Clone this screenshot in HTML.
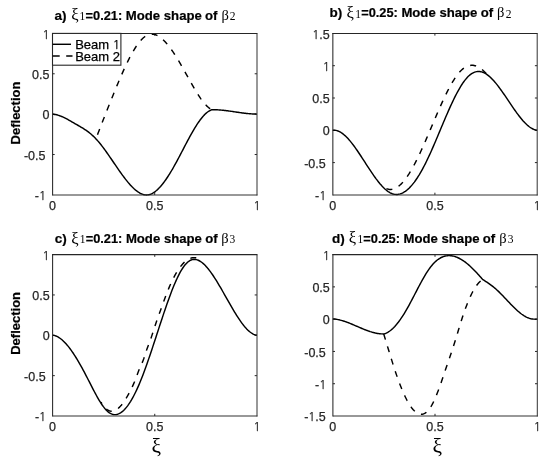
<!DOCTYPE html><html><head><meta charset="utf-8"><title>Mode shapes</title><style>html,body{margin:0;padding:0;background:#fff;}svg{display:block;}</style></head><body>
<svg width="550" height="465" viewBox="0 0 550 465">
<rect width="550" height="465" fill="#fff"/>
<text x="46.00" y="200.00" font-family="'Liberation Sans', Arial, Helvetica, sans-serif" font-size="12.5" fill="#262626" stroke="#262626" stroke-width="0.25" text-anchor="end">-<tspan font-family="NanumGothic, 'Liberation Sans', sans-serif" font-size="11.6">1</tspan></text>
<path d="M52.50,154.53 h2.2 M256.90,154.53 h-2.2" stroke="#262626" stroke-width="1"/>
<text x="45.50" y="159.62" font-family="'Liberation Sans', Arial, Helvetica, sans-serif" font-size="12.5" fill="#262626" stroke="#262626" stroke-width="0.25" text-anchor="end">-0.5</text>
<path d="M52.50,114.15 h2.2 M256.90,114.15 h-2.2" stroke="#262626" stroke-width="1"/>
<text x="49.50" y="119.25" font-family="'Liberation Sans', Arial, Helvetica, sans-serif" font-size="12.5" fill="#262626" stroke="#262626" stroke-width="0.25" text-anchor="end">0</text>
<path d="M52.50,73.78 h2.2 M256.90,73.78 h-2.2" stroke="#262626" stroke-width="1"/>
<text x="49.50" y="78.88" font-family="'Liberation Sans', Arial, Helvetica, sans-serif" font-size="12.5" fill="#262626" stroke="#262626" stroke-width="0.25" text-anchor="end">0.5</text>
<text x="49.50" y="38.50" font-family="'Liberation Sans', Arial, Helvetica, sans-serif" font-size="12.5" fill="#262626" stroke="#262626" stroke-width="0.25" text-anchor="end"><tspan font-family="NanumGothic, 'Liberation Sans', sans-serif" font-size="11.6">1</tspan></text>
<text x="52.50" y="209.90" font-family="'Liberation Sans', Arial, Helvetica, sans-serif" font-size="12.5" fill="#262626" stroke="#262626" stroke-width="0.25" text-anchor="middle">0</text>
<path d="M154.70,194.90 v-2.2 M154.70,33.40 v2.2" stroke="#262626" stroke-width="1"/>
<text x="154.70" y="209.90" font-family="'Liberation Sans', Arial, Helvetica, sans-serif" font-size="12.5" fill="#262626" stroke="#262626" stroke-width="0.25" text-anchor="middle">0.5</text>
<text x="256.90" y="209.90" font-family="'Liberation Sans', Arial, Helvetica, sans-serif" font-size="12.5" fill="#262626" stroke="#262626" stroke-width="0.25" text-anchor="middle"><tspan font-family="NanumGothic, 'Liberation Sans', sans-serif" font-size="11.6">1</tspan></text>
<text x="326.20" y="200.00" font-family="'Liberation Sans', Arial, Helvetica, sans-serif" font-size="12.5" fill="#262626" stroke="#262626" stroke-width="0.25" text-anchor="end">-<tspan font-family="NanumGothic, 'Liberation Sans', sans-serif" font-size="11.6">1</tspan></text>
<path d="M332.70,162.60 h2.2 M537.10,162.60 h-2.2" stroke="#262626" stroke-width="1"/>
<text x="325.70" y="167.70" font-family="'Liberation Sans', Arial, Helvetica, sans-serif" font-size="12.5" fill="#262626" stroke="#262626" stroke-width="0.25" text-anchor="end">-0.5</text>
<path d="M332.70,130.30 h2.2 M537.10,130.30 h-2.2" stroke="#262626" stroke-width="1"/>
<text x="329.70" y="135.40" font-family="'Liberation Sans', Arial, Helvetica, sans-serif" font-size="12.5" fill="#262626" stroke="#262626" stroke-width="0.25" text-anchor="end">0</text>
<path d="M332.70,98.00 h2.2 M537.10,98.00 h-2.2" stroke="#262626" stroke-width="1"/>
<text x="329.70" y="103.10" font-family="'Liberation Sans', Arial, Helvetica, sans-serif" font-size="12.5" fill="#262626" stroke="#262626" stroke-width="0.25" text-anchor="end">0.5</text>
<path d="M332.70,65.70 h2.2 M537.10,65.70 h-2.2" stroke="#262626" stroke-width="1"/>
<text x="329.70" y="70.80" font-family="'Liberation Sans', Arial, Helvetica, sans-serif" font-size="12.5" fill="#262626" stroke="#262626" stroke-width="0.25" text-anchor="end"><tspan font-family="NanumGothic, 'Liberation Sans', sans-serif" font-size="11.6">1</tspan></text>
<text x="329.70" y="38.50" font-family="'Liberation Sans', Arial, Helvetica, sans-serif" font-size="12.5" fill="#262626" stroke="#262626" stroke-width="0.25" text-anchor="end"><tspan font-family="NanumGothic, 'Liberation Sans', sans-serif" font-size="11.6">1</tspan>.5</text>
<text x="332.70" y="209.90" font-family="'Liberation Sans', Arial, Helvetica, sans-serif" font-size="12.5" fill="#262626" stroke="#262626" stroke-width="0.25" text-anchor="middle">0</text>
<path d="M434.90,194.90 v-2.2 M434.90,33.40 v2.2" stroke="#262626" stroke-width="1"/>
<text x="434.90" y="209.90" font-family="'Liberation Sans', Arial, Helvetica, sans-serif" font-size="12.5" fill="#262626" stroke="#262626" stroke-width="0.25" text-anchor="middle">0.5</text>
<text x="537.10" y="209.90" font-family="'Liberation Sans', Arial, Helvetica, sans-serif" font-size="12.5" fill="#262626" stroke="#262626" stroke-width="0.25" text-anchor="middle"><tspan font-family="NanumGothic, 'Liberation Sans', sans-serif" font-size="11.6">1</tspan></text>
<text x="46.10" y="421.10" font-family="'Liberation Sans', Arial, Helvetica, sans-serif" font-size="12.5" fill="#262626" stroke="#262626" stroke-width="0.25" text-anchor="end">-<tspan font-family="NanumGothic, 'Liberation Sans', sans-serif" font-size="11.6">1</tspan></text>
<path d="M52.60,375.65 h2.2 M256.90,375.65 h-2.2" stroke="#262626" stroke-width="1"/>
<text x="45.60" y="380.75" font-family="'Liberation Sans', Arial, Helvetica, sans-serif" font-size="12.5" fill="#262626" stroke="#262626" stroke-width="0.25" text-anchor="end">-0.5</text>
<path d="M52.60,335.30 h2.2 M256.90,335.30 h-2.2" stroke="#262626" stroke-width="1"/>
<text x="49.60" y="340.40" font-family="'Liberation Sans', Arial, Helvetica, sans-serif" font-size="12.5" fill="#262626" stroke="#262626" stroke-width="0.25" text-anchor="end">0</text>
<path d="M52.60,294.95 h2.2 M256.90,294.95 h-2.2" stroke="#262626" stroke-width="1"/>
<text x="49.60" y="300.05" font-family="'Liberation Sans', Arial, Helvetica, sans-serif" font-size="12.5" fill="#262626" stroke="#262626" stroke-width="0.25" text-anchor="end">0.5</text>
<text x="49.60" y="259.70" font-family="'Liberation Sans', Arial, Helvetica, sans-serif" font-size="12.5" fill="#262626" stroke="#262626" stroke-width="0.25" text-anchor="end"><tspan font-family="NanumGothic, 'Liberation Sans', sans-serif" font-size="11.6">1</tspan></text>
<text x="52.60" y="431.00" font-family="'Liberation Sans', Arial, Helvetica, sans-serif" font-size="12.5" fill="#262626" stroke="#262626" stroke-width="0.25" text-anchor="middle">0</text>
<path d="M154.75,416.00 v-2.2 M154.75,254.60 v2.2" stroke="#262626" stroke-width="1"/>
<text x="154.75" y="431.00" font-family="'Liberation Sans', Arial, Helvetica, sans-serif" font-size="12.5" fill="#262626" stroke="#262626" stroke-width="0.25" text-anchor="middle">0.5</text>
<text x="256.90" y="431.00" font-family="'Liberation Sans', Arial, Helvetica, sans-serif" font-size="12.5" fill="#262626" stroke="#262626" stroke-width="0.25" text-anchor="middle"><tspan font-family="NanumGothic, 'Liberation Sans', sans-serif" font-size="11.6">1</tspan></text>
<text x="325.80" y="421.10" font-family="'Liberation Sans', Arial, Helvetica, sans-serif" font-size="12.5" fill="#262626" stroke="#262626" stroke-width="0.25" text-anchor="end">-<tspan font-family="NanumGothic, 'Liberation Sans', sans-serif" font-size="11.6">1</tspan>.5</text>
<path d="M332.80,383.72 h2.2 M537.20,383.72 h-2.2" stroke="#262626" stroke-width="1"/>
<text x="326.30" y="388.82" font-family="'Liberation Sans', Arial, Helvetica, sans-serif" font-size="12.5" fill="#262626" stroke="#262626" stroke-width="0.25" text-anchor="end">-<tspan font-family="NanumGothic, 'Liberation Sans', sans-serif" font-size="11.6">1</tspan></text>
<path d="M332.80,351.44 h2.2 M537.20,351.44 h-2.2" stroke="#262626" stroke-width="1"/>
<text x="325.80" y="356.54" font-family="'Liberation Sans', Arial, Helvetica, sans-serif" font-size="12.5" fill="#262626" stroke="#262626" stroke-width="0.25" text-anchor="end">-0.5</text>
<path d="M332.80,319.16 h2.2 M537.20,319.16 h-2.2" stroke="#262626" stroke-width="1"/>
<text x="329.80" y="324.26" font-family="'Liberation Sans', Arial, Helvetica, sans-serif" font-size="12.5" fill="#262626" stroke="#262626" stroke-width="0.25" text-anchor="end">0</text>
<path d="M332.80,286.88 h2.2 M537.20,286.88 h-2.2" stroke="#262626" stroke-width="1"/>
<text x="329.80" y="291.98" font-family="'Liberation Sans', Arial, Helvetica, sans-serif" font-size="12.5" fill="#262626" stroke="#262626" stroke-width="0.25" text-anchor="end">0.5</text>
<text x="329.80" y="259.70" font-family="'Liberation Sans', Arial, Helvetica, sans-serif" font-size="12.5" fill="#262626" stroke="#262626" stroke-width="0.25" text-anchor="end"><tspan font-family="NanumGothic, 'Liberation Sans', sans-serif" font-size="11.6">1</tspan></text>
<text x="332.80" y="431.00" font-family="'Liberation Sans', Arial, Helvetica, sans-serif" font-size="12.5" fill="#262626" stroke="#262626" stroke-width="0.25" text-anchor="middle">0</text>
<path d="M435.00,416.00 v-2.2 M435.00,254.60 v2.2" stroke="#262626" stroke-width="1"/>
<text x="435.00" y="431.00" font-family="'Liberation Sans', Arial, Helvetica, sans-serif" font-size="12.5" fill="#262626" stroke="#262626" stroke-width="0.25" text-anchor="middle">0.5</text>
<text x="537.20" y="431.00" font-family="'Liberation Sans', Arial, Helvetica, sans-serif" font-size="12.5" fill="#262626" stroke="#262626" stroke-width="0.25" text-anchor="middle"><tspan font-family="NanumGothic, 'Liberation Sans', sans-serif" font-size="11.6">1</tspan></text>
<path d="M52.60,114.19 L53.61,114.27 L54.62,114.41 L55.63,114.58 L56.64,114.81 L57.64,115.07 L58.65,115.38 L59.66,115.72 L60.67,116.10 L61.68,116.51 L62.69,116.94 L63.70,117.41 L64.71,117.90 L65.72,118.40 L66.72,118.93 L67.73,119.48 L68.74,120.03 L69.75,120.60 L70.76,121.18 L71.77,121.76 L72.78,122.35 L73.79,122.93 L74.79,123.51 L75.80,124.09 L76.81,124.67 L77.82,125.25 L78.83,125.83 L79.84,126.42 L80.85,127.01 L81.86,127.62 L82.87,128.24 L83.87,128.88 L84.88,129.54 L85.89,130.22 L86.90,130.93 L87.91,131.66 L88.92,132.43 L89.93,133.22 L90.94,134.06 L91.95,134.93 L92.95,135.85 L93.96,136.81 L94.97,137.82 L95.98,138.88 L96.99,139.98 L98.00,141.13 L99.01,142.31 L100.02,143.54 L101.03,144.80 L102.03,146.09 L103.04,147.42 L104.05,148.77 L105.06,150.15 L106.07,151.54 L107.08,152.96 L108.09,154.40 L109.10,155.85 L110.11,157.31 L111.11,158.78 L112.12,160.26 L113.13,161.74 L114.14,163.22 L115.15,164.70 L116.16,166.18 L117.17,167.65 L118.18,169.11 L119.18,170.56 L120.19,171.99 L121.20,173.41 L122.21,174.81 L123.22,176.18 L124.23,177.53 L125.24,178.85 L126.25,180.14 L127.26,181.40 L128.26,182.62 L129.27,183.80 L130.28,184.93 L131.29,186.02 L132.30,187.07 L133.31,188.06 L134.32,188.99 L135.33,189.87 L136.34,190.69 L137.34,191.44 L138.35,192.13 L139.36,192.75 L140.37,193.30 L141.38,193.77 L142.39,194.17 L143.40,194.48 L144.41,194.72 L145.42,194.86 L146.42,194.92 L147.43,194.88 L148.44,194.75 L149.45,194.53 L150.46,194.21 L151.47,193.80 L152.48,193.30 L153.49,192.72 L154.49,192.06 L155.50,191.31 L156.51,190.49 L157.52,189.59 L158.53,188.61 L159.54,187.57 L160.55,186.46 L161.56,185.29 L162.57,184.05 L163.57,182.75 L164.58,181.39 L165.59,179.98 L166.60,178.52 L167.61,177.00 L168.62,175.44 L169.63,173.84 L170.64,172.19 L171.65,170.50 L172.65,168.77 L173.66,167.01 L174.67,165.21 L175.68,163.38 L176.69,161.53 L177.70,159.66 L178.71,157.76 L179.72,155.85 L180.73,153.93 L181.73,151.99 L182.74,150.06 L183.75,148.12 L184.76,146.19 L185.77,144.27 L186.78,142.35 L187.79,140.46 L188.80,138.58 L189.81,136.72 L190.81,134.90 L191.82,133.10 L192.83,131.34 L193.84,129.62 L194.85,127.94 L195.86,126.30 L196.87,124.72 L197.88,123.19 L198.88,121.72 L199.89,120.31 L200.90,118.97 L201.91,117.70 L202.92,116.50 L203.93,115.38 L204.94,114.34 L205.95,113.39 L206.96,112.53 L207.96,111.76 L208.97,111.09 L209.98,110.52 L210.99,110.05 L212.00,109.69 L213.04,109.69 L214.08,109.70 L215.13,109.72 L216.17,109.76 L217.21,109.81 L218.25,109.87 L219.29,109.94 L220.33,110.02 L221.38,110.11 L222.42,110.21 L223.46,110.32 L224.50,110.43 L225.54,110.56 L226.59,110.69 L227.63,110.82 L228.67,110.96 L229.71,111.11 L230.75,111.25 L231.80,111.40 L232.84,111.56 L233.88,111.71 L234.92,111.87 L235.96,112.02 L237.00,112.18 L238.05,112.33 L239.09,112.48 L240.13,112.63 L241.17,112.77 L242.21,112.92 L243.26,113.05 L244.30,113.19 L245.34,113.31 L246.38,113.43 L247.42,113.54 L248.47,113.64 L249.51,113.74 L250.55,113.82 L251.59,113.90 L252.63,113.96 L253.67,114.02 L254.72,114.06 L255.76,114.09 L256.80,114.10" fill="none" stroke="#000" stroke-width="1.45" stroke-linejoin="round"/>
<path d="M332.90,130.21 L333.91,130.17 L334.91,130.22 L335.92,130.38 L336.92,130.63 L337.93,130.96 L338.93,131.39 L339.94,131.90 L340.94,132.49 L341.95,133.16 L342.95,133.90 L343.96,134.71 L344.97,135.59 L345.97,136.54 L346.98,137.55 L347.98,138.61 L348.99,139.73 L349.99,140.90 L351.00,142.12 L352.00,143.39 L353.01,144.69 L354.01,146.04 L355.02,147.42 L356.02,148.83 L357.03,150.28 L358.04,151.74 L359.04,153.23 L360.05,154.74 L361.05,156.27 L362.06,157.80 L363.06,159.35 L364.07,160.90 L365.07,162.46 L366.08,164.02 L367.08,165.57 L368.09,167.11 L369.10,168.65 L370.10,170.17 L371.11,171.68 L372.11,173.16 L373.12,174.62 L374.12,176.06 L375.13,177.46 L376.13,178.84 L377.14,180.17 L378.14,181.47 L379.15,182.73 L380.15,183.94 L381.16,185.10 L382.17,186.21 L383.17,187.26 L384.18,188.25 L385.18,189.18 L386.19,190.05 L387.19,190.85 L388.20,191.57 L389.20,192.23 L390.21,192.80 L391.21,193.29 L392.22,193.69 L393.23,194.01 L394.23,194.24 L395.24,194.39 L396.24,194.45 L397.25,194.42 L398.25,194.32 L399.26,194.13 L400.26,193.85 L401.27,193.50 L402.27,193.07 L403.28,192.56 L404.28,191.97 L405.29,191.31 L406.30,190.57 L407.30,189.76 L408.31,188.87 L409.31,187.91 L410.32,186.88 L411.32,185.78 L412.33,184.61 L413.33,183.37 L414.34,182.07 L415.34,180.70 L416.35,179.26 L417.36,177.76 L418.36,176.19 L419.37,174.57 L420.37,172.88 L421.38,171.13 L422.38,169.32 L423.39,167.46 L424.39,165.54 L425.40,163.56 L426.40,161.52 L427.41,159.44 L428.41,157.31 L429.42,155.14 L430.43,152.93 L431.43,150.69 L432.44,148.41 L433.44,146.10 L434.45,143.77 L435.45,141.42 L436.46,139.05 L437.46,136.67 L438.47,134.28 L439.47,131.88 L440.48,129.48 L441.49,127.09 L442.49,124.69 L443.50,122.31 L444.50,119.94 L445.51,117.58 L446.51,115.24 L447.52,112.93 L448.52,110.64 L449.53,108.38 L450.53,106.16 L451.54,103.98 L452.54,101.83 L453.55,99.73 L454.56,97.68 L455.56,95.68 L456.57,93.74 L457.57,91.86 L458.58,90.04 L459.58,88.28 L460.59,86.60 L461.59,84.99 L462.60,83.45 L463.60,82.00 L464.61,80.63 L465.62,79.35 L466.62,78.16 L467.63,77.07 L468.63,76.08 L469.64,75.18 L470.64,74.39 L471.65,73.69 L472.65,73.09 L473.66,72.59 L474.66,72.18 L475.67,71.87 L476.67,71.65 L477.68,71.52 L478.69,71.48 L479.69,71.54 L480.70,71.68 L481.70,71.91 L482.71,72.23 L483.71,72.63 L484.72,73.12 L485.72,73.69 L486.73,74.34 L487.73,75.07 L488.74,75.86 L489.75,76.73 L490.75,77.65 L491.76,78.64 L492.76,79.69 L493.77,80.79 L494.77,81.94 L495.78,83.14 L496.78,84.38 L497.79,85.66 L498.79,86.98 L499.80,88.33 L500.80,89.71 L501.81,91.12 L502.82,92.55 L503.82,94.00 L504.83,95.46 L505.83,96.94 L506.84,98.43 L507.84,99.92 L508.85,101.42 L509.85,102.91 L510.86,104.40 L511.86,105.88 L512.87,107.35 L513.88,108.81 L514.88,110.24 L515.89,111.66 L516.89,113.05 L517.90,114.41 L518.90,115.73 L519.91,117.03 L520.91,118.28 L521.92,119.49 L522.92,120.66 L523.93,121.77 L524.93,122.83 L525.94,123.84 L526.95,124.78 L527.95,125.67 L528.96,126.48 L529.96,127.23 L530.97,127.90 L531.97,128.50 L532.98,129.01 L533.98,129.44 L534.99,129.78 L535.99,130.04 L537.00,130.19" fill="none" stroke="#000" stroke-width="1.45" stroke-linejoin="round"/>
<path d="M52.90,335.20 L53.91,335.38 L54.92,335.65 L55.93,336.01 L56.94,336.44 L57.95,336.96 L58.96,337.56 L59.97,338.23 L60.98,338.98 L61.98,339.80 L62.99,340.70 L64.00,341.66 L65.01,342.68 L66.02,343.77 L67.03,344.93 L68.04,346.14 L69.05,347.41 L70.06,348.74 L71.07,350.12 L72.08,351.55 L73.09,353.03 L74.10,354.56 L75.11,356.13 L76.12,357.74 L77.13,359.40 L78.14,361.10 L79.14,362.83 L80.15,364.59 L81.16,366.39 L82.17,368.22 L83.18,370.08 L84.19,371.96 L85.20,373.87 L86.21,375.80 L87.22,377.75 L88.23,379.71 L89.24,381.69 L90.25,383.67 L91.26,385.65 L92.27,387.62 L93.28,389.57 L94.29,391.50 L95.30,393.39 L96.30,395.25 L97.31,397.07 L98.32,398.83 L99.33,400.53 L100.34,402.17 L101.35,403.74 L102.36,405.23 L103.37,406.63 L104.38,407.93 L105.39,409.14 L106.40,410.24 L107.41,411.22 L108.42,412.09 L109.43,412.83 L110.44,413.43 L111.45,413.92 L112.45,414.28 L113.46,414.51 L114.47,414.62 L115.48,414.62 L116.49,414.49 L117.50,414.25 L118.51,413.90 L119.52,413.43 L120.53,412.85 L121.54,412.17 L122.55,411.37 L123.56,410.47 L124.57,409.46 L125.58,408.35 L126.59,407.14 L127.60,405.83 L128.61,404.42 L129.61,402.92 L130.62,401.32 L131.63,399.63 L132.64,397.85 L133.65,395.98 L134.66,394.02 L135.67,391.97 L136.68,389.84 L137.69,387.63 L138.70,385.34 L139.71,382.97 L140.72,380.52 L141.73,377.99 L142.74,375.40 L143.75,372.74 L144.76,370.02 L145.77,367.24 L146.77,364.42 L147.78,361.54 L148.79,358.63 L149.80,355.67 L150.81,352.69 L151.82,349.67 L152.83,346.63 L153.84,343.57 L154.85,340.49 L155.86,337.41 L156.87,334.31 L157.88,331.22 L158.89,328.13 L159.90,325.04 L160.91,321.97 L161.92,318.92 L162.93,315.88 L163.93,312.87 L164.94,309.90 L165.95,306.95 L166.96,304.05 L167.97,301.19 L168.98,298.39 L169.99,295.64 L171.00,292.96 L172.01,290.34 L173.02,287.79 L174.03,285.32 L175.04,282.94 L176.05,280.64 L177.06,278.43 L178.07,276.33 L179.08,274.33 L180.09,272.44 L181.09,270.66 L182.10,269.01 L183.11,267.48 L184.12,266.07 L185.13,264.80 L186.14,263.67 L187.15,262.66 L188.16,261.79 L189.17,261.05 L190.18,260.45 L191.19,259.99 L192.20,259.66 L193.21,259.46 L194.22,259.39 L195.23,259.43 L196.24,259.60 L197.25,259.87 L198.25,260.26 L199.26,260.75 L200.27,261.33 L201.28,262.01 L202.29,262.78 L203.30,263.64 L204.31,264.58 L205.32,265.59 L206.33,266.68 L207.34,267.84 L208.35,269.06 L209.36,270.34 L210.37,271.68 L211.38,273.07 L212.39,274.52 L213.40,276.01 L214.40,277.54 L215.41,279.12 L216.42,280.73 L217.43,282.38 L218.44,284.06 L219.45,285.76 L220.46,287.49 L221.47,289.23 L222.48,290.99 L223.49,292.76 L224.50,294.55 L225.51,296.33 L226.52,298.12 L227.53,299.91 L228.54,301.69 L229.55,303.47 L230.56,305.23 L231.56,306.97 L232.57,308.70 L233.58,310.40 L234.59,312.08 L235.60,313.73 L236.61,315.35 L237.62,316.92 L238.63,318.46 L239.64,319.96 L240.65,321.40 L241.66,322.80 L242.67,324.14 L243.68,325.43 L244.69,326.65 L245.70,327.81 L246.71,328.90 L247.72,329.92 L248.72,330.87 L249.73,331.73 L250.74,332.52 L251.75,333.22 L252.76,333.82 L253.77,334.34 L254.78,334.76 L255.79,335.08 L256.80,335.30" fill="none" stroke="#000" stroke-width="1.45" stroke-linejoin="round"/>
<path d="M332.90,318.90 L333.94,318.98 L334.97,319.09 L336.01,319.23 L337.05,319.41 L338.08,319.60 L339.12,319.83 L340.16,320.08 L341.19,320.35 L342.23,320.65 L343.27,320.96 L344.30,321.30 L345.34,321.65 L346.38,322.02 L347.41,322.40 L348.45,322.79 L349.49,323.20 L350.52,323.62 L351.56,324.04 L352.60,324.47 L353.63,324.91 L354.67,325.36 L355.71,325.81 L356.74,326.25 L357.78,326.70 L358.82,327.15 L359.86,327.60 L360.89,328.04 L361.93,328.48 L362.97,328.91 L364.00,329.33 L365.04,329.74 L366.08,330.14 L367.11,330.53 L368.15,330.90 L369.19,331.26 L370.22,331.61 L371.26,331.93 L372.30,332.24 L373.33,332.52 L374.37,332.78 L375.41,333.02 L376.44,333.23 L377.48,333.42 L378.52,333.58 L379.55,333.70 L380.59,333.80 L381.63,333.87 L382.66,333.90 L383.70,333.90 L384.71,333.78 L385.72,333.39 L386.73,332.91 L387.74,332.36 L388.76,331.73 L389.77,331.02 L390.78,330.24 L391.79,329.39 L392.80,328.46 L393.81,327.47 L394.82,326.40 L395.83,325.28 L396.85,324.08 L397.86,322.83 L398.87,321.51 L399.88,320.13 L400.89,318.69 L401.90,317.19 L402.91,315.64 L403.92,314.04 L404.94,312.38 L405.95,310.67 L406.96,308.92 L407.97,307.12 L408.98,305.28 L409.99,303.41 L411.00,301.51 L412.01,299.59 L413.03,297.65 L414.04,295.71 L415.05,293.75 L416.06,291.80 L417.07,289.85 L418.08,287.92 L419.09,286.00 L420.10,284.10 L421.12,282.23 L422.13,280.39 L423.14,278.58 L424.15,276.83 L425.16,275.11 L426.17,273.46 L427.18,271.86 L428.19,270.33 L429.21,268.86 L430.22,267.48 L431.23,266.17 L432.24,264.95 L433.25,263.81 L434.26,262.75 L435.27,261.77 L436.28,260.86 L437.29,260.04 L438.31,259.29 L439.32,258.62 L440.33,258.01 L441.34,257.48 L442.35,257.02 L443.36,256.63 L444.37,256.30 L445.38,256.04 L446.40,255.85 L447.41,255.71 L448.42,255.64 L449.43,255.63 L450.44,255.68 L451.45,255.78 L452.46,255.94 L453.47,256.16 L454.49,256.42 L455.50,256.74 L456.51,257.11 L457.52,257.53 L458.53,257.99 L459.54,258.50 L460.55,259.05 L461.56,259.65 L462.58,260.29 L463.59,260.97 L464.60,261.69 L465.61,262.44 L466.62,263.23 L467.63,264.06 L468.64,264.92 L469.65,265.81 L470.67,266.73 L471.68,267.68 L472.69,268.66 L473.70,269.66 L474.71,270.69 L475.72,271.74 L476.73,272.81 L477.74,273.90 L478.76,275.02 L479.77,276.15 L480.78,277.29 L481.79,278.45 L482.80,279.63 L483.83,280.23 L484.85,280.87 L485.88,281.52 L486.91,282.18 L487.93,282.87 L488.96,283.57 L489.98,284.30 L491.01,285.05 L492.04,285.82 L493.06,286.63 L494.09,287.46 L495.12,288.33 L496.14,289.24 L497.17,290.17 L498.20,291.14 L499.22,292.14 L500.25,293.16 L501.28,294.20 L502.30,295.26 L503.33,296.33 L504.35,297.42 L505.38,298.51 L506.41,299.60 L507.43,300.69 L508.46,301.79 L509.49,302.87 L510.51,303.95 L511.54,305.01 L512.57,306.06 L513.59,307.08 L514.62,308.09 L515.65,309.06 L516.67,310.01 L517.70,310.93 L518.72,311.81 L519.75,312.66 L520.78,313.47 L521.80,314.23 L522.83,314.95 L523.86,315.62 L524.88,316.25 L525.91,316.81 L526.94,317.33 L527.96,317.78 L528.99,318.17 L530.02,318.50 L531.04,318.76 L532.07,318.95 L533.09,319.08 L534.12,319.15 L535.15,319.17 L536.17,319.15 L537.20,319.10" fill="none" stroke="#000" stroke-width="1.45" stroke-linejoin="round"/>
<path d="M96.00,138.57 L97.01,135.93 L98.02,133.30 L99.03,130.68 L100.03,128.08 L101.04,125.48 L102.05,122.88 L103.06,120.30 L104.07,117.72 L105.08,115.14 L106.09,112.58 L107.10,110.02 L108.10,107.48 L109.11,104.94 L110.12,102.42 L111.13,99.91 L112.14,97.41 L113.15,94.92 L114.16,92.45 L115.17,90.00 L116.17,87.56 L117.18,85.13 L118.19,82.73 L119.20,80.35 L120.21,77.99 L121.22,75.66 L122.23,73.36 L123.23,71.10 L124.24,68.87 L125.25,66.69 L126.26,64.55 L127.27,62.45 L128.28,60.40 L129.29,58.41 L130.30,56.47 L131.30,54.60 L132.31,52.78 L133.32,51.03 L134.33,49.35 L135.34,47.74 L136.35,46.20 L137.36,44.74 L138.37,43.36 L139.37,42.07 L140.38,40.86 L141.39,39.74 L142.40,38.72 L143.41,37.79 L144.42,36.96 L145.43,36.24 L146.43,35.62 L147.44,35.11 L148.45,34.70 L149.46,34.41 L150.47,34.23 L151.48,34.14 L152.49,34.16 L153.50,34.28 L154.50,34.49 L155.51,34.79 L156.52,35.19 L157.53,35.67 L158.54,36.23 L159.55,36.88 L160.56,37.60 L161.57,38.40 L162.57,39.28 L163.58,40.22 L164.59,41.23 L165.60,42.31 L166.61,43.45 L167.62,44.65 L168.63,45.90 L169.63,47.21 L170.64,48.58 L171.65,49.99 L172.66,51.44 L173.67,52.94 L174.68,54.48 L175.69,56.06 L176.70,57.67 L177.70,59.32 L178.71,60.99 L179.72,62.69 L180.73,64.42 L181.74,66.16 L182.75,67.93 L183.76,69.71 L184.77,71.50 L185.77,73.31 L186.78,75.12 L187.79,76.93 L188.80,78.75 L189.81,80.56 L190.82,82.37 L191.83,84.16 L192.83,85.93 L193.84,87.68 L194.85,89.40 L195.86,91.09 L196.87,92.74 L197.88,94.35 L198.89,95.91 L199.90,97.41 L200.90,98.87 L201.91,100.25 L202.92,101.58 L203.93,102.83 L204.94,104.00 L205.95,105.10 L206.96,106.11 L207.97,107.02 L208.97,107.85 L209.98,108.57 L210.99,109.19 L212.00,109.69" fill="none" stroke="#000" stroke-width="1.45" stroke-dasharray="6 7" stroke-dashoffset="8.8"/>
<path d="M383.80,187.19 L384.81,187.83 L385.83,188.36 L386.84,188.79 L387.86,189.10 L388.87,189.32 L389.88,189.42 L390.90,189.43 L391.91,189.33 L392.92,189.13 L393.94,188.84 L394.95,188.44 L395.97,187.96 L396.98,187.37 L397.99,186.70 L399.01,185.94 L400.02,185.08 L401.04,184.14 L402.05,183.11 L403.06,182.00 L404.08,180.80 L405.09,179.52 L406.10,178.16 L407.12,176.73 L408.13,175.22 L409.15,173.64 L410.16,171.99 L411.17,170.28 L412.19,168.51 L413.20,166.67 L414.22,164.78 L415.23,162.84 L416.24,160.85 L417.26,158.81 L418.27,156.73 L419.29,154.61 L420.30,152.44 L421.31,150.25 L422.33,148.02 L423.34,145.76 L424.35,143.48 L425.37,141.17 L426.38,138.84 L427.40,136.49 L428.41,134.13 L429.42,131.76 L430.44,129.38 L431.45,127.00 L432.47,124.61 L433.48,122.22 L434.49,119.84 L435.51,117.47 L436.52,115.10 L437.53,112.76 L438.55,110.43 L439.56,108.12 L440.58,105.84 L441.59,103.59 L442.60,101.36 L443.62,99.18 L444.63,97.03 L445.65,94.93 L446.66,92.87 L447.67,90.86 L448.69,88.90 L449.70,87.00 L450.71,85.16 L451.73,83.38 L452.74,81.67 L453.76,80.02 L454.77,78.45 L455.78,76.96 L456.80,75.54 L457.81,74.21 L458.83,72.97 L459.84,71.81 L460.85,70.75 L461.87,69.79 L462.88,68.92 L463.90,68.14 L464.91,67.46 L465.92,66.87 L466.94,66.38 L467.95,65.98 L468.96,65.66 L469.98,65.44 L470.99,65.31 L472.01,65.27 L473.02,65.31 L474.03,65.45 L475.05,65.67 L476.06,65.97 L477.08,66.36 L478.09,66.84 L479.10,67.40 L480.12,68.04 L481.13,68.77 L482.14,69.57 L483.16,70.46 L484.17,71.43 L485.19,72.48 L486.20,73.60" fill="none" stroke="#000" stroke-width="1.45" stroke-dasharray="6 7" stroke-dashoffset="10.0"/>
<path d="M101.00,402.21 L102.02,403.89 L103.03,405.39 L104.05,406.71 L105.06,407.85 L106.08,408.81 L107.09,409.61 L108.11,410.24 L109.12,410.70 L110.14,411.01 L111.16,411.16 L112.17,411.17 L113.19,411.03 L114.20,410.75 L115.22,410.33 L116.23,409.79 L117.25,409.11 L118.27,408.31 L119.28,407.39 L120.30,406.35 L121.31,405.21 L122.33,403.95 L123.34,402.60 L124.36,401.14 L125.38,399.60 L126.39,397.96 L127.41,396.23 L128.42,394.43 L129.44,392.54 L130.45,390.58 L131.47,388.53 L132.48,386.37 L133.50,384.09 L134.52,381.68 L135.53,379.11 L136.55,376.42 L137.56,373.68 L138.58,371.01 L139.59,368.50 L140.61,366.20 L141.62,363.97 L142.64,361.66 L143.66,359.10 L144.67,356.14 L145.69,352.82 L146.70,349.67 L147.72,346.95 L148.73,344.39 L149.75,341.74 L150.77,338.88 L151.78,335.88 L152.80,332.78 L153.81,329.66 L154.83,326.55 L155.84,323.53 L156.86,320.59 L157.88,317.70 L158.89,314.85 L159.91,312.00 L160.92,309.15 L161.94,306.31 L162.95,303.48 L163.97,300.69 L164.98,297.95 L166.00,295.25 L167.02,292.63 L168.03,290.09 L169.05,287.64 L170.06,285.28 L171.08,283.02 L172.09,280.85 L173.11,278.78 L174.12,276.81 L175.14,274.93 L176.16,273.15 L177.17,271.46 L178.19,269.87 L179.20,268.37 L180.22,266.98 L181.23,265.68 L182.25,264.48 L183.27,263.37 L184.28,262.36 L185.30,261.45 L186.31,260.64 L187.33,259.93 L188.34,259.31 L189.36,258.79 L190.38,258.37 L191.39,258.05 L192.41,257.83 L193.42,257.71 L194.44,257.69 L195.45,257.77 L196.47,257.95 L197.48,258.22 L198.50,258.60" fill="none" stroke="#000" stroke-width="1.45" stroke-dasharray="6 7" stroke-dashoffset="4.4"/>
<path d="M383.70,333.91 L384.71,337.23 L385.72,340.55 L386.73,343.89 L387.74,347.23 L388.76,350.56 L389.77,353.87 L390.78,357.15 L391.79,360.41 L392.80,363.62 L393.81,366.78 L394.82,369.88 L395.83,372.91 L396.85,375.87 L397.86,378.74 L398.87,381.52 L399.88,384.22 L400.89,386.81 L401.90,389.31 L402.91,391.71 L403.92,394.00 L404.94,396.19 L405.95,398.27 L406.96,400.24 L407.97,402.09 L408.98,403.82 L409.99,405.43 L411.00,406.92 L412.01,408.28 L413.03,409.51 L414.04,410.61 L415.05,411.57 L416.06,412.40 L417.07,413.08 L418.08,413.62 L419.09,414.01 L420.10,414.25 L421.12,414.34 L422.13,414.27 L423.14,414.04 L424.15,413.66 L425.16,413.10 L426.17,412.38 L427.18,411.49 L428.19,410.43 L429.21,409.19 L430.22,407.77 L431.23,406.17 L432.24,404.38 L433.25,402.42 L434.26,400.29 L435.27,398.02 L436.28,395.61 L437.29,393.07 L438.31,390.43 L439.32,387.70 L440.33,384.89 L441.34,382.01 L442.35,379.07 L443.36,376.10 L444.37,373.11 L445.38,370.10 L446.40,367.10 L447.41,364.11 L448.42,361.15 L449.43,358.19 L450.44,355.23 L451.45,352.25 L452.46,349.23 L453.47,346.17 L454.49,343.04 L455.50,339.84 L456.51,336.55 L457.52,333.20 L458.53,329.82 L459.54,326.46 L460.55,323.14 L461.56,319.92 L462.58,316.80 L463.59,313.78 L464.60,310.87 L465.61,308.08 L466.62,305.39 L467.63,302.82 L468.64,300.37 L469.65,298.04 L470.67,295.83 L471.68,293.74 L472.69,291.78 L473.70,289.95 L474.71,288.25 L475.72,286.68 L476.73,285.24 L477.74,283.95 L478.76,282.79 L479.77,281.78 L480.78,280.90 L481.79,280.18 L482.80,279.60" fill="none" stroke="#000" stroke-width="1.45" stroke-dasharray="6 7" stroke-dashoffset="0"/>
<path d="M52.1,33.5 H257.45" stroke="#262626" stroke-width="1.1"/>
<path d="M52.6,33.0 V195.45" stroke="#262626" stroke-width="1.05"/>
<path d="M257.0,33.5 V195.45" stroke="#262626" stroke-width="0.95"/>
<path d="M52.6,195.0 H257.45" stroke="#262626" stroke-width="0.95"/>
<path d="M332.35,33.5 H537.6500000000001" stroke="#262626" stroke-width="1.1"/>
<path d="M332.85,33.0 V195.45" stroke="#262626" stroke-width="1.05"/>
<path d="M537.2,33.5 V195.45" stroke="#262626" stroke-width="0.95"/>
<path d="M332.85,195.0 H537.6500000000001" stroke="#262626" stroke-width="0.95"/>
<path d="M52.1,254.6 H257.45" stroke="#262626" stroke-width="1.1"/>
<path d="M52.6,254.1 V416.45" stroke="#262626" stroke-width="1.05"/>
<path d="M257.0,254.6 V416.45" stroke="#262626" stroke-width="0.95"/>
<path d="M52.6,416.0 H257.45" stroke="#262626" stroke-width="0.95"/>
<path d="M332.4,254.6 H537.75" stroke="#262626" stroke-width="1.1"/>
<path d="M332.9,254.1 V416.45" stroke="#262626" stroke-width="1.05"/>
<path d="M537.3,254.6 V416.45" stroke="#262626" stroke-width="0.95"/>
<path d="M332.9,416.0 H537.75" stroke="#262626" stroke-width="0.95"/>
<rect x="52.5" y="33.4" width="68.4" height="31.8" fill="#fff" stroke="#262626" stroke-width="1.1"/>
<path d="M52.7,44.3 H71" stroke="#000" stroke-width="1.45"/>
<path d="M52.7,55.9 H72.5" stroke="#000" stroke-width="1.45" stroke-dasharray="7 6.5"/>
<text x="75.2" y="48.9" font-family="'Liberation Sans', Arial, Helvetica, sans-serif" font-size="13" fill="#000" stroke="#000" stroke-width="0.25">Beam <tspan font-family="NanumGothic, 'Liberation Sans', sans-serif" font-size="12.0">1</tspan></text>
<text x="75.2" y="60.5" font-family="'Liberation Sans', Arial, Helvetica, sans-serif" font-size="13" fill="#000" stroke="#000" stroke-width="0.25">Beam 2</text>
<text x="54.40" y="19.5" font-family="'Liberation Sans', Arial, Helvetica, sans-serif" font-weight="bold" stroke="#000" stroke-width="0.2" font-size="13.5" fill="#000">a)</text>
<text x="71.20" y="20.2" font-family="'Liberation Serif', 'Times New Roman', serif" font-size="16.5" fill="#000">ξ</text>
<text x="79.60" y="19.8" font-family="'Liberation Serif', 'Times New Roman', serif" font-size="11.5" fill="#000">1</text>
<text x="85.60" y="19.5" font-family="'Liberation Sans', Arial, Helvetica, sans-serif" font-weight="bold" stroke="#000" stroke-width="0.2" font-size="12.8" fill="#000">=0.21:</text>
<text x="125.80" y="19.5" font-family="'Liberation Sans', Arial, Helvetica, sans-serif" font-weight="bold" stroke="#000" stroke-width="0.2" font-size="13.15" fill="#000">Mode</text>
<text x="163.80" y="19.5" font-family="'Liberation Sans', Arial, Helvetica, sans-serif" font-weight="bold" stroke="#000" stroke-width="0.2" font-size="13.15" fill="#000">shape</text>
<text x="205.10" y="19.5" font-family="'Liberation Sans', Arial, Helvetica, sans-serif" font-weight="bold" stroke="#000" stroke-width="0.2" font-size="13.15" fill="#000">of</text>
<text x="221.40" y="19.5" font-family="'Liberation Serif', 'Times New Roman', serif" font-size="14.5" fill="#000">β</text>
<text x="229.70" y="19.8" font-family="'Liberation Serif', 'Times New Roman', serif" font-size="11.5" fill="#000">2</text>
<text x="329.40" y="17.4" font-family="'Liberation Sans', Arial, Helvetica, sans-serif" font-weight="bold" stroke="#000" stroke-width="0.2" font-size="13.5" fill="#000">b)</text>
<text x="346.60" y="18.099999999999998" font-family="'Liberation Serif', 'Times New Roman', serif" font-size="16.5" fill="#000">ξ</text>
<text x="355.30" y="17.7" font-family="'Liberation Serif', 'Times New Roman', serif" font-size="11.5" fill="#000">1</text>
<text x="361.20" y="17.4" font-family="'Liberation Sans', Arial, Helvetica, sans-serif" font-weight="bold" stroke="#000" stroke-width="0.2" font-size="12.8" fill="#000">=0.25:</text>
<text x="401.40" y="17.4" font-family="'Liberation Sans', Arial, Helvetica, sans-serif" font-weight="bold" stroke="#000" stroke-width="0.2" font-size="13.15" fill="#000">Mode</text>
<text x="439.40" y="17.4" font-family="'Liberation Sans', Arial, Helvetica, sans-serif" font-weight="bold" stroke="#000" stroke-width="0.2" font-size="13.15" fill="#000">shape</text>
<text x="480.70" y="17.4" font-family="'Liberation Sans', Arial, Helvetica, sans-serif" font-weight="bold" stroke="#000" stroke-width="0.2" font-size="13.15" fill="#000">of</text>
<text x="497.10" y="17.4" font-family="'Liberation Serif', 'Times New Roman', serif" font-size="14.5" fill="#000">β</text>
<text x="505.80" y="17.7" font-family="'Liberation Serif', 'Times New Roman', serif" font-size="11.5" fill="#000">2</text>
<text x="54.70" y="242.9" font-family="'Liberation Sans', Arial, Helvetica, sans-serif" font-weight="bold" stroke="#000" stroke-width="0.2" font-size="13.5" fill="#000">c)</text>
<text x="71.20" y="243.6" font-family="'Liberation Serif', 'Times New Roman', serif" font-size="16.5" fill="#000">ξ</text>
<text x="79.80" y="243.20000000000002" font-family="'Liberation Serif', 'Times New Roman', serif" font-size="11.5" fill="#000">1</text>
<text x="85.70" y="242.9" font-family="'Liberation Sans', Arial, Helvetica, sans-serif" font-weight="bold" stroke="#000" stroke-width="0.2" font-size="12.8" fill="#000">=0.21:</text>
<text x="125.90" y="242.9" font-family="'Liberation Sans', Arial, Helvetica, sans-serif" font-weight="bold" stroke="#000" stroke-width="0.2" font-size="13.15" fill="#000">Mode</text>
<text x="163.90" y="242.9" font-family="'Liberation Sans', Arial, Helvetica, sans-serif" font-weight="bold" stroke="#000" stroke-width="0.2" font-size="13.15" fill="#000">shape</text>
<text x="205.20" y="242.9" font-family="'Liberation Sans', Arial, Helvetica, sans-serif" font-weight="bold" stroke="#000" stroke-width="0.2" font-size="13.15" fill="#000">of</text>
<text x="221.20" y="242.9" font-family="'Liberation Serif', 'Times New Roman', serif" font-size="14.5" fill="#000">β</text>
<text x="229.40" y="243.20000000000002" font-family="'Liberation Serif', 'Times New Roman', serif" font-size="11.5" fill="#000">3</text>
<text x="332.00" y="242.5" font-family="'Liberation Sans', Arial, Helvetica, sans-serif" font-weight="bold" stroke="#000" stroke-width="0.2" font-size="13.5" fill="#000">d)</text>
<text x="348.80" y="243.2" font-family="'Liberation Serif', 'Times New Roman', serif" font-size="16.5" fill="#000">ξ</text>
<text x="357.60" y="242.8" font-family="'Liberation Serif', 'Times New Roman', serif" font-size="11.5" fill="#000">1</text>
<text x="363.30" y="242.5" font-family="'Liberation Sans', Arial, Helvetica, sans-serif" font-weight="bold" stroke="#000" stroke-width="0.2" font-size="12.8" fill="#000">=0.25:</text>
<text x="403.50" y="242.5" font-family="'Liberation Sans', Arial, Helvetica, sans-serif" font-weight="bold" stroke="#000" stroke-width="0.2" font-size="13.15" fill="#000">Mode</text>
<text x="441.50" y="242.5" font-family="'Liberation Sans', Arial, Helvetica, sans-serif" font-weight="bold" stroke="#000" stroke-width="0.2" font-size="13.15" fill="#000">shape</text>
<text x="482.80" y="242.5" font-family="'Liberation Sans', Arial, Helvetica, sans-serif" font-weight="bold" stroke="#000" stroke-width="0.2" font-size="13.15" fill="#000">of</text>
<text x="499.20" y="242.5" font-family="'Liberation Serif', 'Times New Roman', serif" font-size="14.5" fill="#000">β</text>
<text x="507.70" y="242.8" font-family="'Liberation Serif', 'Times New Roman', serif" font-size="11.5" fill="#000">3</text>
<text x="0" y="0" transform="translate(20.2,113.0) rotate(-90)" font-family="'Liberation Sans', Arial, Helvetica, sans-serif" font-weight="bold" font-size="13" fill="#000" stroke="#000" stroke-width="0.2" text-anchor="middle">Deflection</text>
<text x="0" y="0" transform="translate(20.2,323.4) rotate(-90)" font-family="'Liberation Sans', Arial, Helvetica, sans-serif" font-weight="bold" font-size="13" fill="#000" stroke="#000" stroke-width="0.2" text-anchor="middle">Deflection</text>
<text x="151.5" y="452.9" font-family="'Liberation Serif', 'Times New Roman', serif" font-size="21.5" fill="#000">ξ</text>
<text x="432.6" y="453.4" font-family="'Liberation Serif', 'Times New Roman', serif" font-size="21.5" fill="#000">ξ</text>
</svg></body></html>
